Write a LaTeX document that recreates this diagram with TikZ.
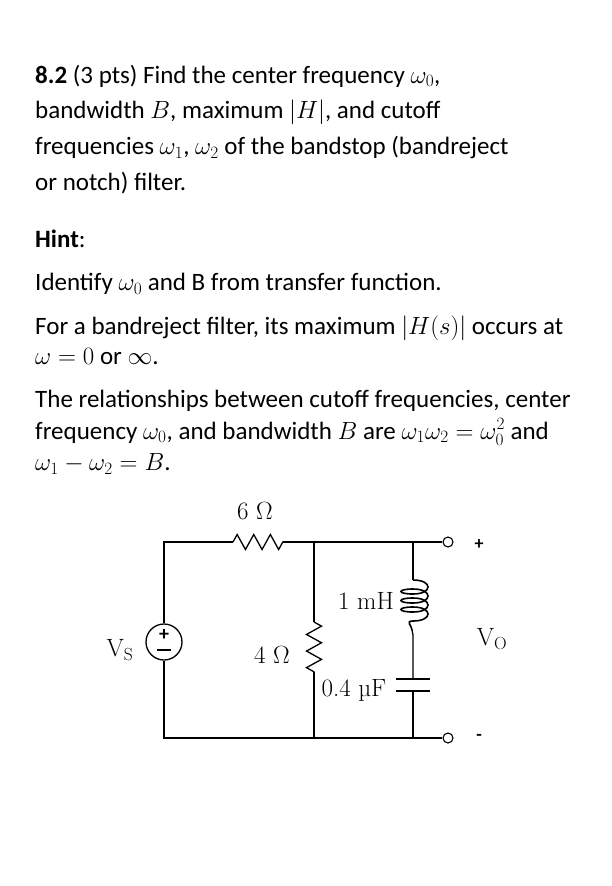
\documentclass[tikz,border=0pt]{standalone}
\usepackage{fontspec}
\setmainfont{Carlito}
\newfontfamily\ser{Latin Modern Roman}
\usetikzlibrary{decorations.pathmorphing}
\begin{document}
\begin{tikzpicture}[x=1pt,y=-1pt,
  txt/.style={anchor=west,inner sep=0pt,font=\fontsize{25}{30}\selectfont},
  lbl/.style={inner sep=1pt,font=\ser\fontsize{25}{27}\selectfont},
  w/.style={line width=1.3pt},
  zz/.style={w,decorate,decoration={zigzag,segment length=16.6pt,amplitude=7.5pt}},
  term/.style={circle,draw,line width=1.1pt,fill=white,minimum size=10pt,inner sep=0pt}]
\useasboundingbox (0,0) rectangle (611,886);
\node[txt] (t1) at (35,76) {\textbf{8.2} (3 pts) Find the center frequency $\omega_0$,};
\node[txt] (t2) at (35,112) {bandwidth $B$, maximum $|H|$, and cutoff};
\node[txt] (t3) at (35,148) {frequencies $\omega_1$, $\omega_2$ of the bandstop (bandreject};
\node[txt] (t4) at (35,183) {or notch) filter.};
\node[txt] (t5) at (35,239) {\textbf{Hint}:};
\node[txt] (t6) at (35,284) {Identify $\omega_0$ and B from transfer function.};
\node[txt] (t7) at (35,328) {For a bandreject filter, its maximum $|H(s)|$ occurs at};
\node[txt] (t8) at (35,357) {$\omega = 0\ \mathrm{or}\ \infty$.};
\node[txt] (t9) at (35,401) {The relationships between cutoff frequencies, center};
\node[txt] (t10) at (35,432) {frequency $\omega_0$, and bandwidth $B$ are $\omega_1\omega_2=\omega_{\smash{0}}^2$ and};
\node[txt] (t11) at (35,464) {$\omega_1-\omega_2=B$.};
% coordinates
\coordinate (tl) at (164,542);
\coordinate (bl) at (164,738);
\coordinate (r1a) at (233,542);
\coordinate (r1b) at (283,542);
\coordinate (m) at (314,542);
\coordinate (mb) at (314,738);
\coordinate (r2a) at (314,622);
\coordinate (r2b) at (314,672);
\coordinate (rt) at (413,542);
\coordinate (rb) at (413,738);
\coordinate (la) at (413,580);
\coordinate (lb) at (413,635);
\coordinate (c1) at (413,679);
\coordinate (c2) at (413,691);
\node[circle,draw,w,minimum size=36pt,inner sep=0pt] (vs) at (164,642) {};
\node[font=\bfseries\fontsize{20}{20}\selectfont,inner sep=0pt] (pl) at (164,635) {+};
\draw[line width=1.8pt] (157,650) -- (171,650);
% wires
\draw[w] (vs.north) -- (tl) -- (r1a);
\draw[zz] (r1a) -- (r1b);
\draw[w] (r1b) -- (m) -- (rt);
\node[term] (tp) at (448,542) {};
\node[term] (tm) at (448,738) {};
\draw[w] (rt) -- (tp);
\draw[w] (vs.south) -- (bl) -- (mb) -- (rb) -- (tm);
\draw[w] (m) -- (r2a);
\draw[zz] (r2a) -- (r2b);
\draw[w] (r2b) -- (mb);
\draw[w] (rt) -- (la);
\draw[line width=1.6pt] (la) .. controls +(20,0) and +(20,0) .. ++(0,14)
  .. controls +(-16,0) and +(-16,0) .. ++(0,-5)
  .. controls +(20,0) and +(20,0) .. ++(0,14)
  .. controls +(-16,0) and +(-16,0) .. ++(0,-5)
  .. controls +(20,0) and +(20,0) .. ++(0,14)
  .. controls +(-16,0) and +(-16,0) .. ++(0,-5)
  .. controls +(20,0) and +(20,0) .. ++(0,14)
  .. controls +(-8,0) and +(0,-4) .. ++(-1,9) coordinate (le);
\draw[w] (le) -- (lb) -- (c1);
\draw[line width=1.8pt] (396,679) -- (430,679);
\draw[line width=1.8pt] (396,691) -- (430,691);
\draw[w] (c2) -- (rb);
% labels
\node[lbl] (l6) at (255,511) {6 $\Omega$};
\node[lbl] (l4) at (272,655) {4 $\Omega$};
\node[lbl] (lL) at (366,601) {1 mH};
\node[lbl] (lC) at (354,690) {0.4 µF};
\node[lbl] (lvs) at (120,650) {V\textsubscript{S}};
\node[lbl] (lvo) at (492,639) {V\textsubscript{O}};
\node[font=\bfseries\fontsize{18}{18}\selectfont] (lp) at (479,545) {+};
\node[font=\bfseries\fontsize{18}{18}\selectfont] (lm) at (479,737) {-};
\end{tikzpicture}
\end{document}
